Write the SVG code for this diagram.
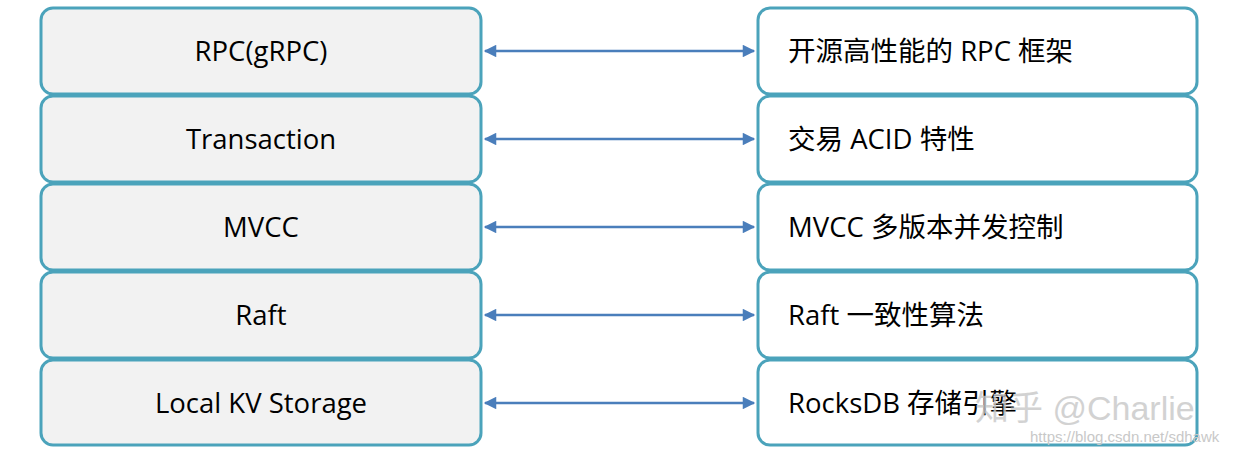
<svg xmlns="http://www.w3.org/2000/svg" width="1249" height="457" viewBox="0 0 1249 457">
<style>
.l{fill:#f2f2f2;stroke:#4ba3bb;stroke-width:3}
.r{fill:#ffffff;stroke:#4ba3bb;stroke-width:3}
.t{font-family:"Open Sans","Noto Sans CJK SC",sans-serif;font-size:27.5px;fill:#000}
.c{stroke:#4a7ebb;stroke-width:2.5;fill:none;marker-start:url(#a);marker-end:url(#a)}
.w{font-family:"Liberation Sans","Noto Sans CJK SC",sans-serif;fill:#c8c8c8}
</style>
<defs><marker id="a" viewBox="0 0 10 10" refX="9" refY="5" markerWidth="6" markerHeight="5" orient="auto-start-reverse" markerUnits="strokeWidth"><path d="M0,0L10,5L0,10z" fill="#4a7ebb"/></marker></defs>
<rect x="0" y="0" width="1249" height="457" fill="#fff"/>
<g id="n1"><rect class="l" x="41" y="8" width="440" height="86" rx="12"/><text class="t" x="261" y="61" text-anchor="middle">RPC(gRPC)</text></g>
<g id="n2"><rect class="l" x="41" y="96" width="440" height="86" rx="12"/><text class="t" x="261" y="149" text-anchor="middle">Transaction</text></g>
<g id="n3"><rect class="l" x="41" y="184" width="440" height="86" rx="12"/><text class="t" x="261" y="237" text-anchor="middle">MVCC</text></g>
<g id="n4"><rect class="l" x="41" y="272" width="440" height="86" rx="12"/><text class="t" x="261" y="325" text-anchor="middle">Raft</text></g>
<g id="n5"><rect class="l" x="41" y="360" width="440" height="85" rx="12"/><text class="t" x="261" y="413" text-anchor="middle">Local KV Storage</text></g>
<g id="m1"><rect class="r" x="758" y="8" width="439" height="86" rx="12"/><text class="t" x="788" y="61">开源高性能的 RPC 框架</text></g>
<g id="m2"><rect class="r" x="758" y="96" width="439" height="86" rx="12"/><text class="t" x="788" y="149">交易 ACID 特性</text></g>
<g id="m3"><rect class="r" x="758" y="184" width="439" height="86" rx="12"/><text class="t" x="788" y="237">MVCC 多版本并发控制</text></g>
<g id="m4"><rect class="r" x="758" y="272" width="439" height="86" rx="12"/><text class="t" x="788" y="325">Raft 一致性算法</text></g>
<g id="m5"><rect class="r" x="758" y="360" width="439" height="85" rx="12"/><text class="t" x="788" y="413">RocksDB 存储引擎</text></g>
<g id="connectors">
<line class="c" x1="485" y1="51" x2="754" y2="51"/>
<line class="c" x1="485" y1="139" x2="754" y2="139"/>
<line class="c" x1="485" y1="227" x2="754" y2="227"/>
<line class="c" x1="485" y1="315" x2="754" y2="315"/>
<line class="c" x1="485" y1="403" x2="754" y2="403"/>
</g>
<text class="w" x="975" y="420" font-size="34" opacity="0.8">知乎 @Charlie</text>
<text class="w" x="1030" y="442" font-size="15">https://blog.csdn.net/sdhawk</text>
</svg>
